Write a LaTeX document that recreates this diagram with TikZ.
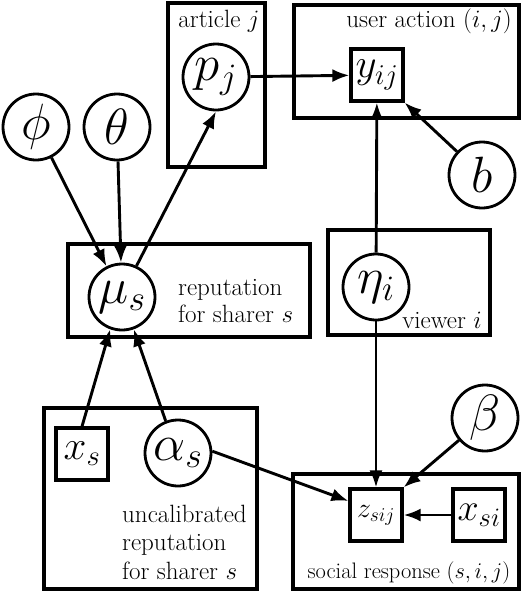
\RequirePackage{fix-cm}
\documentclass[tikz,border=0pt]{standalone}
\usetikzlibrary{arrows.meta}
\begin{document}
\begin{tikzpicture}[x=1pt,y=-1pt,
  plate/.style={draw,line width=3.4pt},
  rv/.style={draw,circle,line width=2.8pt,minimum size=66pt,inner sep=0pt,font=\fontsize{51}{55}\selectfont},
  obs/.style={draw,rectangle,line width=3.2pt,minimum size=52pt,inner sep=0pt,font=\fontsize{41}{45}\selectfont},
  lbl/.style={inner sep=0pt,font=\fontsize{25}{30}\selectfont},
  edge/.style={line width=2.9pt,-{Latex[length=17pt,width=13pt]}}]
\useasboundingbox (0,0) rectangle (526,592);
% plates
\draw[plate] (168,3) rectangle (265,167);
\draw[plate] (294,5) rectangle (519,118);
\draw[plate] (68,244) rectangle (310,337);
\draw[plate] (328,230) rectangle (490,335);
\draw[plate] (44,408) rectangle (257,589);
\draw[plate] (293,474) rectangle (519,589);
% labels
\node[lbl,anchor=base] (la) at (219,27) {article $j$};
\node[lbl,anchor=base east] (lu) at (512,27) {user action $(i,j)$};
\node[lbl,anchor=base west] (lr1) at (178,295) {reputation};
\node[lbl,anchor=base west] (lr2) at (178,322) {for sharer $s$};
\node[lbl,anchor=base east] (lv) at (482,328) {viewer $i$};
\node[lbl,anchor=base west] (lc1) at (122,522) {uncalibrated};
\node[lbl,anchor=base west] (lc2) at (122,550) {reputation};
\node[lbl,anchor=base west] (lc3) at (122,579) {for sharer $s$};
\node[lbl,anchor=base,font=\fontsize{22.4}{27}\selectfont] (ls) at (409,578) {social response $(s,i,j)$};
% nodes
\node[rv] (pj) at (216,77) {$p_j$};
\node[obs] (yij) at (377,75) {$y_{ij}$};
\node[rv] (phi) at (36,127) {$\phi$};
\node[rv] (theta) at (117,127) {$\theta$};
\node[rv] (b) at (482,175) {$b$};
\node[rv] (mu) at (122,297) {$\mu_s$};
\node[rv] (eta) at (376,287) {$\eta_i$};
\node[obs] (xs) at (82,454) {$x_s$};
\node[rv] (alpha) at (178,453) {$\alpha_s$};
\node[rv] (beta) at (485,418) {$\beta$};
\node[obs,font=\fontsize{28}{32}\selectfont] (z) at (376,515) {$z_{sij}$};
\node[obs,font=\fontsize{38}{42}\selectfont] (xsi) at (479,515) {$x_{si}$};
% edges
\draw[edge] (phi) -- (mu);
\draw[edge] (theta) -- (mu);
\draw[edge] (mu.65) -- (pj.south);
\draw[edge] (pj) -- (yij);
\draw[edge] (eta) -- (yij);
\draw[edge] (b) -- (yij.south east);
\draw[edge] (xs.north) -- (mu.250);
\draw[edge] (alpha.111) -- (mu.290);
\draw[edge] (alpha.3) -- (z.153);
\draw[edge] (eta) -- (z);
\draw[edge] (beta) -- (z.north east);
\draw[edge] (xsi) -- (z);
\end{tikzpicture}
\end{document}
